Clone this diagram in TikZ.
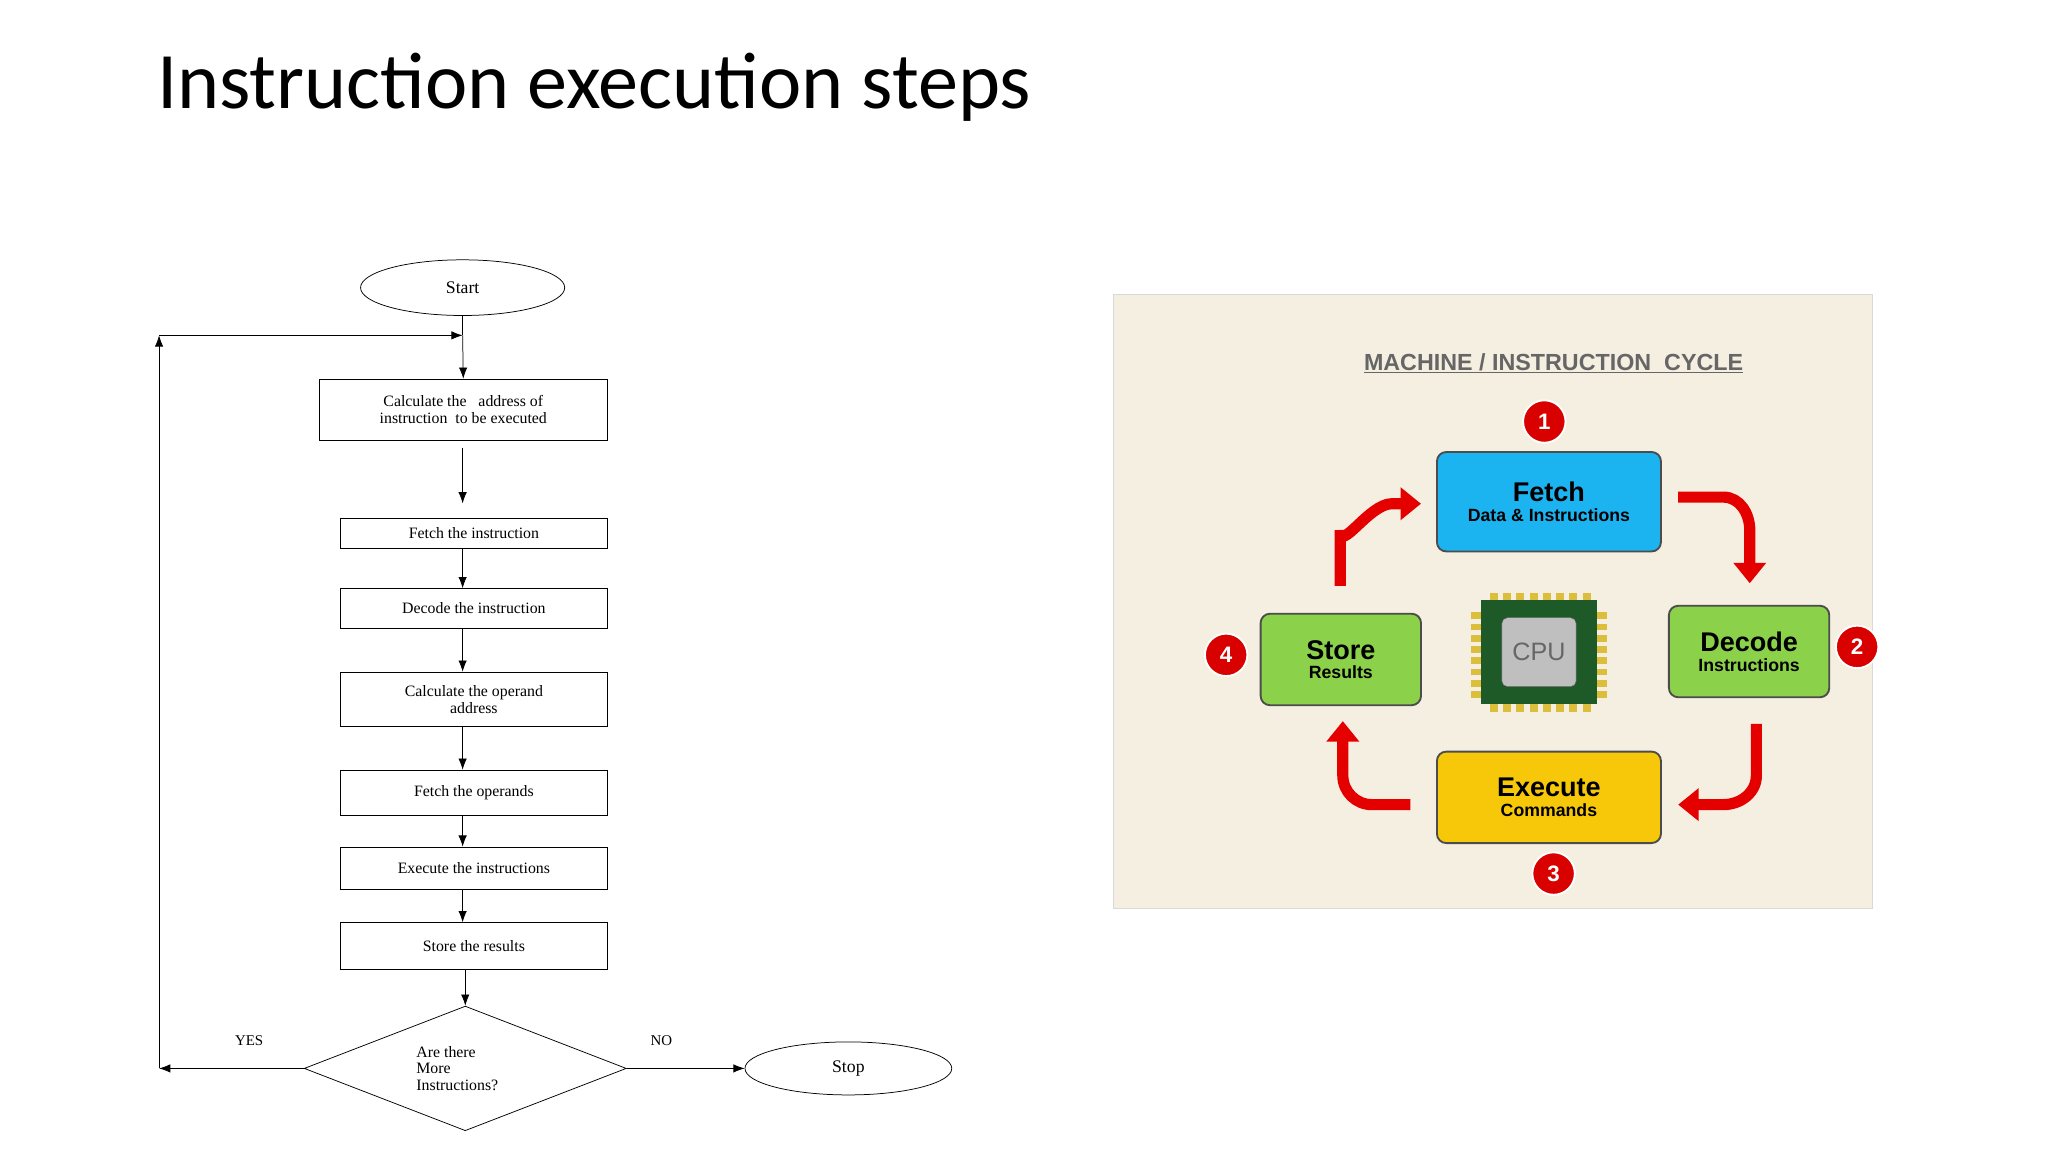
\documentclass[tikz,border=0pt]{standalone}
\usepackage{fontspec}
\setmainfont{Liberation Serif}
\newfontfamily\titlef{Carlito}
\newfontfamily\sansf{Liberation Sans}
\usetikzlibrary{shapes.geometric,arrows.meta}
\definecolor{bgc}{RGB}{244,239,225}
\definecolor{fetchc}{RGB}{28,180,240}
\definecolor{greenc}{RGB}{139,209,74}
\definecolor{yelc}{RGB}{247,200,10}
\definecolor{chipc}{RGB}{30,90,40}
\definecolor{pinc}{RGB}{220,190,60}
\begin{document}
\begin{tikzpicture}[x=0.05cm,y=-0.05cm,
 fbox/.style={draw,thick,minimum width={201*0.05cm},inner sep=0pt,align=center,font=\fontsize{17}{18}\selectfont},
 fa/.style={-{Latex[length=12pt,width=9pt]},thick},
 cbox/.style={draw=black!70,line width=2pt,rounded corners=10pt,align=center,inner sep=0pt},
 num/.style={circle,fill=red!85!black,draw=white,line width=2pt,minimum size={32*0.05cm},inner sep=0pt,text=white,font=\sansf\bfseries\fontsize{24}{24}\selectfont},
 ra/.style={draw=red!90!black,line width=12pt,-{Triangle[length=22pt,width=34pt]}}]
\useasboundingbox (0,0) rectangle (1545,869);
\fill[white] (0,0) rectangle (1545,869);
\node[anchor=west,font=\titlef\fontsize{86}{88}\selectfont] (title) at (116,66) {Instruction execution steps};
% flowchart
\node[draw,thick,ellipse,minimum width={154*0.05cm},minimum height={42*0.05cm},font=\fontsize{19}{20}\selectfont] (start) at (349,217) {Start};
\node[fbox,minimum width={217*0.05cm},minimum height={46*0.05cm}] (b1) at (349.5,309) {Calculate the \ \ address of\\instruction \ to be executed};
\node[fbox,minimum height={23*0.05cm}] (b2) at (357.5,402.5) {Fetch the instruction};
\node[fbox,minimum height={30*0.05cm}] (b3) at (357.5,459) {Decode the instruction};
\node[fbox,minimum height={41*0.05cm}] (b4) at (357.5,527.5) {Calculate the operand\\address};
\node[fbox,minimum height={34*0.05cm}] (b5) at (357.5,598) {Fetch the operands};
\node[fbox,minimum height={32*0.05cm}] (b6) at (357.5,655) {Execute the instructions};
\node[fbox,minimum height={35*0.05cm}] (b7) at (357.5,713.5) {Store the results};
\node[draw,thick,diamond,aspect=2.58,minimum width={243*0.05cm},minimum height={94*0.05cm},inner sep=0pt] (d) at (351,806) {};
\node[align=left,font=\fontsize{17}{18}\selectfont] (dt) at (345,806) {Are there\\More\\Instructions?};
\node[draw,thick,ellipse,minimum width={156*0.05cm},minimum height={40*0.05cm},font=\fontsize{19}{20}\selectfont] (stop) at (640,806) {Stop};
\coordinate (j) at (349,253);
\coordinate (l1) at (120,806);
\coordinate (l2) at (120,253);
\draw[thick] (start.south) -- (j);
\draw[fa] (j) -- (b1.north);
\draw[fa,shorten <=8pt,shorten >=16pt] (349,332) -- (349,391);
\draw[fa] (b2.south -| 349,0) -- (b3.north -| 349,0);
\draw[fa] (b3.south -| 349,0) -- (b4.north -| 349,0);
\draw[fa] (b4.south -| 349,0) -- (b5.north -| 349,0);
\draw[fa] (b5.south -| 349,0) -- (b6.north -| 349,0);
\draw[fa] (b6.south -| 349,0) -- (b7.north -| 349,0);
\draw[fa] (b7.south -| 351,0) -- (d.north);
\draw[fa] (d.east) -- (stop.west);
\draw[fa] (d.west) -- (l1);
\draw[fa] (l1) -- (l2);
\draw[fa] (l2) -- (j);
\node[font=\fontsize{16}{16}\selectfont] (yes) at (188,785) {YES};
\node[font=\fontsize{16}{16}\selectfont] (no) at (499,785) {NO};
% right panel
\fill[bgc,draw=black!15] (840,222) rectangle (1412,685);
\node[font=\sansf\bfseries\fontsize{25}{25}\selectfont,text=black!60] (ct) at (1172,274) {\underline{MACHINE / INSTRUCTION\ \ CYCLE}};
\node[cbox,fill=fetchc,minimum width={169*0.05cm},minimum height={75*0.05cm}] (fetch) at (1168.5,378.5) {\sansf\bfseries\fontsize{29}{32}\selectfont Fetch\\[6pt]\sansf\bfseries\fontsize{19}{20}\selectfont Data \& Instructions};
\node[cbox,fill=greenc,minimum width={121*0.05cm},minimum height={69*0.05cm}] (decode) at (1319.5,491.5) {\sansf\bfseries\fontsize{29}{32}\selectfont Decode\\[6pt]\sansf\bfseries\fontsize{19}{20}\selectfont Instructions};
\node[cbox,fill=yelc,minimum width={169*0.05cm},minimum height={69*0.05cm}] (exec) at (1168.5,601.5) {\sansf\bfseries\fontsize{29}{32}\selectfont Execute\\[6pt]\sansf\bfseries\fontsize{19}{20}\selectfont Commands};
\node[cbox,fill=greenc,minimum width={121*0.05cm},minimum height={69*0.05cm}] (store) at (1011.5,497.5) {\sansf\bfseries\fontsize{29}{32}\selectfont Store\\[6pt]\sansf\bfseries\fontsize{19}{20}\selectfont Results};
% CPU chip
\foreach \i in {0,...,7}{
 \fill[pinc] (1124+\i*10,447) rectangle (1130+\i*10,455);
 \fill[pinc] (1124+\i*10,529) rectangle (1130+\i*10,537);
 \fill[pinc] (1110,462+\i*8.5) rectangle (1118,467+\i*8.5);
 \fill[pinc] (1204,462+\i*8.5) rectangle (1212,467+\i*8.5);}
\fill[chipc] (1117,453) rectangle (1205,531);
\node[draw=black!60,fill=black!25,rounded corners=6pt,minimum width={56*0.05cm},minimum height={52*0.05cm},text=black!60,font=\sansf\fontsize{27}{27}\selectfont] (cpu) at (1161,492) {CPU};
\node[num] (n1) at (1165,318) {1};
\node[num] (n2) at (1401,488) {2};
\node[num] (n3) at (1172,659) {3};
\node[num] (n4) at (925,494) {4};
% red arrows
\coordinate (a1) at (1011,442); \coordinate (a1e) at (1072,380);
\coordinate (a2) at (1266,375); \coordinate (a2e) at (1320,440);
\coordinate (a3) at (1325,546); \coordinate (a3e) at (1266,607);
\coordinate (a4) at (1064,607); \coordinate (a4e) at (1013,544);
\draw[ra] (a1) -- (1011,400) to[out=-90,in=180] (1050,380) -- (a1e);
\draw[ra] (a2) -- (1300,375) to[out=0,in=90] (1320,400) -- (a2e);
\draw[ra] (a3) -- (1325,585) to[out=-90,in=0] (1300,607) -- (a3e);
\draw[ra] (a4) -- (1035,607) to[out=180,in=-90] (1013,585) -- (a4e);
\end{tikzpicture}
\end{document}
